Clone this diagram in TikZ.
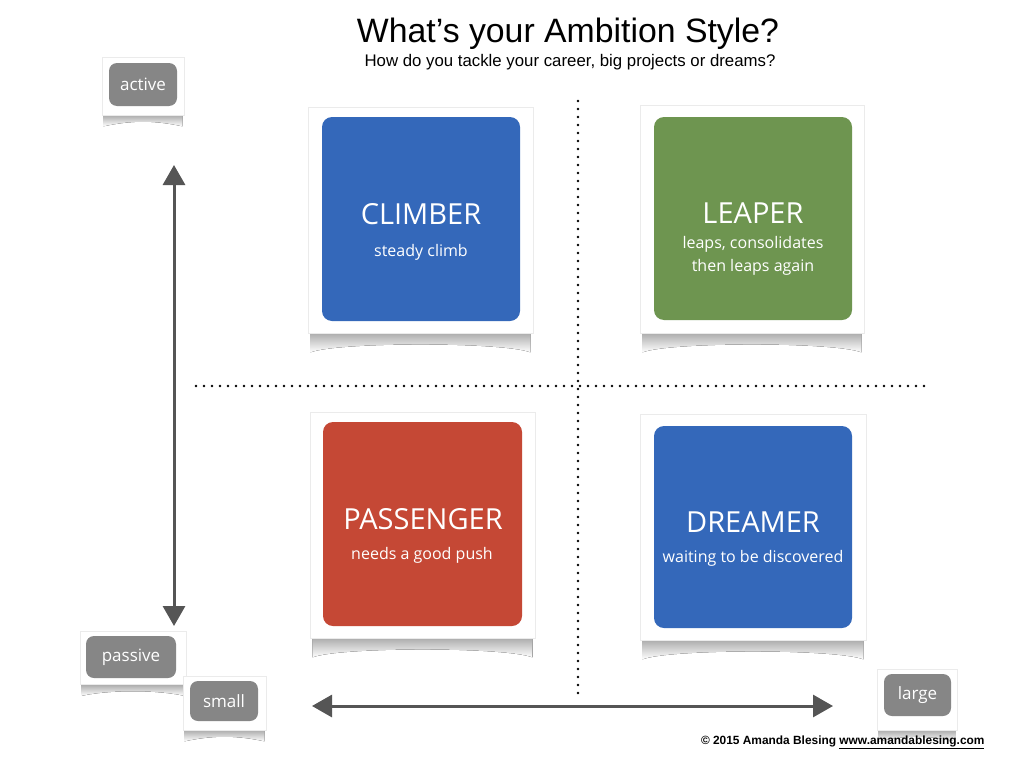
\documentclass[tikz,border=0pt]{standalone}
\usepackage{fontspec}
\setmainfont{Liberation Sans}
\newfontfamily\boxfont{Open Sans}
\usetikzlibrary{arrows.meta,calc}
\definecolor{cblue}{HTML}{3468BA}
\definecolor{cgreen}{HTML}{6E9550}
\definecolor{cred}{HTML}{C54835}
\definecolor{lgray}{HTML}{868686}
\definecolor{agray}{HTML}{555555}
\tikzset{
  frame/.style={fill=white, draw=black!8, line width=0.6pt, inner sep=0pt},
  tile/.style={rounded corners=10pt, inner sep=0pt, text=white, align=center, font=\boxfont},
  lab/.style={fill=lgray, rounded corners=8pt, inner sep=0pt, text=white, font=\boxfont\fontsize{17}{20}\selectfont},
  shad/.style={top color=black!32, bottom color=white},
  dots/.style={line width=2.6pt, line cap=round, dash pattern=on 0pt off 8pt},
  bigarrow/.style={agray, line width=3pt, {Triangle[width=22pt,length=20pt]}-{Triangle[width=22pt,length=20pt]}},
}
\newcommand\curlshadow[3]{% node, depth, inset
  \fill[shad] ([xshift=#3]#1.south west) -- ([xshift=-#3]#1.south east) -- ([xshift=-#3,yshift=-#2]#1.south east)
   .. controls ([xshift=-30pt,yshift=-0.45*#2]#1.south east) and ([xshift=30pt,yshift=-0.45*#2]#1.south west) .. ([xshift=#3,yshift=-#2]#1.south west) -- cycle;}
\begin{document}
\begin{tikzpicture}[x=1pt,y=-1pt]
\useasboundingbox (0,0) rectangle (1024,768);
\fill[white] (0,0) rectangle (1024,768);
% title
\node (title) at (568,34) {\fontsize{33.8}{38}\selectfont What’s your Ambition Style?};
\node (sub) at (570,62) {\fontsize{16.8}{19}\selectfont How do you tackle your career, big projects or dreams?};
% dotted axes
\coordinate (vt) at (578,101);
\coordinate (vb) at (578,695);
\coordinate (hl) at (196,386);
\coordinate (hr) at (930,386);
\draw[dots] (vt) -- (vb);
\draw[dots] (hl) -- (hr);
% frames
\node[frame, minimum width=225, minimum height=226] (f1) at (420.5,220) {};
\node[frame, minimum width=224, minimum height=228] (f2) at (752,219) {};
\node[frame, minimum width=225, minimum height=226] (f3) at (422.5,525) {};
\node[frame, minimum width=226, minimum height=226] (f4) at (753,527) {};
\curlshadow{f1}{19pt}{3pt}
\curlshadow{f2}{19pt}{3pt}
\curlshadow{f3}{19pt}{3pt}
\curlshadow{f4}{19pt}{3pt}
\node[frame, minimum width=225, minimum height=226] at (f1) {};
\node[frame, minimum width=224, minimum height=228] at (f2) {};
\node[frame, minimum width=225, minimum height=226] at (f3) {};
\node[frame, minimum width=226, minimum height=226] at (f4) {};
% tiles
\node[tile, fill=cblue, minimum width=198, minimum height=204] (climber) at (421,219) {};
\node[tile, fill=cgreen, minimum width=198, minimum height=203] (leaper) at (753,218.5) {};
\node[tile, fill=cred, minimum width=199, minimum height=204] (passenger) at (422.5,524) {};
\node[tile, fill=cblue, minimum width=198, minimum height=202] (dreamer) at (753,527) {};
\node[text=white, font=\boxfont\fontsize{29}{34}\selectfont] (t1) at (421,214) {CLIMBER};
\node[text=white, font=\boxfont\fontsize{16}{20}\selectfont] (s1) at (421,252) {steady climb};
\node[text=white, font=\boxfont\fontsize{29}{34}\selectfont] (t2) at (753,213) {LEAPER};
\node[text=white, font=\boxfont\fontsize{16}{23}\selectfont, align=center] (s2) at (753,256) {leaps, consolidates\\then leaps again};
\node[text=white, font=\boxfont\fontsize{29}{34}\selectfont] (t3) at (423,519) {PASSENGER};
\node[text=white, font=\boxfont\fontsize{16}{20}\selectfont] (s3) at (422,555) {needs a good push};
\node[text=white, font=\boxfont\fontsize{29}{34}\selectfont] (t4) at (753,522) {DREAMER};
\node[text=white, font=\boxfont\fontsize{16}{20}\selectfont] (s4) at (753,558) {waiting to be discovered};
% arrows
\coordinate (at) at (174,165);
\coordinate (ab) at (174,626);
\coordinate (al) at (312,706);
\coordinate (ar) at (833,706);
\draw[bigarrow] (ab) -- (at);
\draw[bigarrow] (al) -- (ar);
% label boxes
\node[frame, minimum width=82, minimum height=58] (fa) at (143,86) {};
\node[frame, minimum width=106, minimum height=53] (fp) at (133,658) {};
\node[frame, minimum width=83, minimum height=54] (fs) at (224.5,703) {};
\node[frame, minimum width=80, minimum height=61] (fl) at (917,699.5) {};
\curlshadow{fa}{11pt}{2pt}
\curlshadow{fp}{11pt}{2pt}
\curlshadow{fs}{11pt}{2pt}
\curlshadow{fl}{11pt}{2pt}
\node[frame, minimum width=82, minimum height=58] at (fa) {};
\node[frame, minimum width=106, minimum height=53] at (fp) {};
\node[frame, minimum width=83, minimum height=54] at (fs) {};
\node[frame, minimum width=80, minimum height=61] at (fl) {};
\node[lab, minimum width=68, minimum height=43] (active) at (143,84.5) {active};
\node[lab, minimum width=90, minimum height=42] (passive) at (131,657) {passive};
\node[lab, minimum width=68, minimum height=40] (small) at (224,701) {small};
\node[lab, minimum width=67, minimum height=42] (large) at (917.5,695) {large};
% copyright
\node[anchor=east, font=\bfseries\fontsize{11.9}{14}\selectfont] (copy) at (988,742) {© 2015 Amanda Blesing \underline{www.amandablesing.com}};
\end{tikzpicture}
\end{document}
